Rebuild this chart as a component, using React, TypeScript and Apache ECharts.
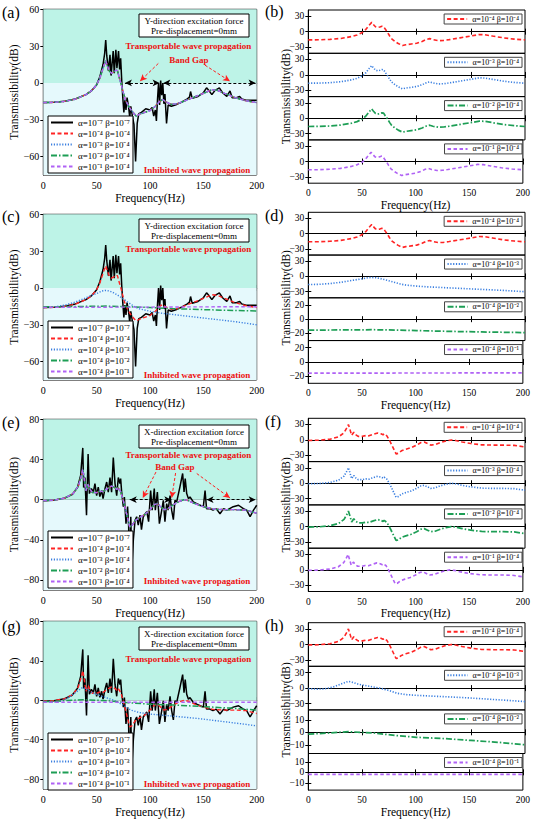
import React, { useEffect, useRef } from "react";
import * as echarts from "echarts";

type Pt = [number, number];

const FONT = "Liberation Serif, serif";
const W = 533;
const H = 819;

// ---------- tick labels ----------
const Y_TICKS_Y = [-60, -30, 0, 30, 60];
const Y_TICKS_X = [-80, -40, 0, 40, 80];
const SUB_TICKS_30 = [-30, 0, 30];
const SUB_TICKS_20 = [-20, 0, 20];
const SUB_TICKS_10 = [-10, 0, 10];

// ---------- legend names ----------
const NAMES_ALPHA = ["α=10⁻⁷ β=10⁻⁷", "α=10⁻⁴ β=10⁻⁴", "α=10⁻³ β=10⁻⁴", "α=10⁻² β=10⁻⁴", "α=10⁻¹ β=10⁻⁴"];
const NAMES_BETA = ["α=10⁻⁷ β=10⁻⁷", "α=10⁻⁴ β=10⁻⁴", "α=10⁻⁴ β=10⁻³", "α=10⁻⁴ β=10⁻²", "α=10⁻⁴ β=10⁻¹"];

// ---------- Y-direction excitation ----------
const yLight: Pt[] = [
  [0, -16], [10, -15.8], [20, -15], [30, -13], [40, -9.5], [45, -6.5], [50, -1.5], [53, 5], [56, 15], [57.5, 24],
  [58.5, 35], [59.5, 22], [61, 10], [62.5, 23], [63.5, 6], [65.5, 26], [66.5, 8], [68, 27], [69, 12], [70.5, 26],
  [71.5, 11], [72.5, 20], [73.5, 2], [74.5, -12], [75.5, -24], [76.5, -14], [77.5, -22], [78.5, -12], [80, -20],
  [81, -28], [82, -19], [83.5, -27], [85, -34], [86.5, -64], [88, -33], [89.5, -25], [92, -24], [96, -21], [100, -22],
  [102, -20], [103.5, -27], [105, -22], [106, -31], [107, -14], [108, 0], [109, -18], [110, 2], [111, -10], [112, 0],
  [113, -17], [114, -9], [115.5, -33], [117, -18], [120, -19], [125, -17.5], [130, -15.5], [135, -13], [137, -11.5],
  [138, -7], [139.5, -12.5], [145, -11], [150, -8], [153, -4], [155, -6], [158, -9.5], [161, -6], [165, -4], [168, -8],
  [172, -11], [175, -6.5], [177, -12], [181, -12], [184, -11], [186, -13], [190, -14], [195, -14], [200, -14],
];
const yBase: Pt[] = [
  [0, -16], [10, -15.8], [20, -15], [30, -13.2], [40, -9.5], [45, -6.5], [50, -1.5], [53, 4], [56, 12], [58.5, 18],
  [60, 14], [62, 9.5], [64, 8], [66, 9], [68, 10.5], [69.5, 10], [71, 5], [73, -1], [75, -8], [77, -14], [80, -19],
  [83, -23], [87, -27], [90, -25.5], [95, -24], [100, -22.5], [105, -19], [109, -15], [112, -13.5], [115, -15.5],
  [120, -17.5], [125, -17], [130, -15.5], [140, -12], [150, -8.5], [158, -5.5], [163, -6], [170, -8.5], [180, -12],
  [190, -14.5], [200, -16],
];
const yBeta3: Pt[] = [
  [0, -16], [10, -15.5], [20, -14], [30, -11.5], [40, -8], [50, -4.5], [55, -2.5], [58, -2], [62, -2.5], [66, -4],
  [70, -6], [75, -9], [80, -12], [85, -15], [90, -17], [100, -19], [110, -20.5], [120, -21.5], [135, -23], [150, -24.5],
  [165, -26], [180, -27.5], [200, -30],
];
const yBeta2: Pt[] = [
  [0, -15.5], [20, -15.2], [40, -15], [60, -14.8], [80, -15.3], [100, -16], [120, -16.8], [140, -17.4], [160, -17.9],
  [180, -18.4], [200, -18.8],
];
const yBeta1: Pt[] = [[0, -15.8], [50, -15.7], [100, -15.6], [150, -15.4], [200, -15.3]];

// ---------- X-direction excitation ----------
const xLight: Pt[] = [
  [0, -1], [10, -0.5], [20, 1.5], [27, 5], [32, 12], [35, 24], [37, 51.5], [37.8, 12], [39, 22], [40.5, -15.5],
  [42, 45.5], [43.2, 6], [45, 11], [47, 8], [48.4, 16], [50, 4], [51.5, 12.5], [53, 3], [54.7, 9], [56, 1], [57.8, 11],
  [59.4, 17.5], [60.9, 7.5], [62.5, 22], [64, 7.5], [65.6, 42], [67.2, 16], [68.8, 4], [70.3, 22], [71.8, 16],
  [72.5, 21], [73.4, 8], [75, -7], [76, 2.6], [77.5, -24], [79, -7], [80, -27], [80.6, -81.5], [82, -17], [83, -67],
  [84.4, -40], [86, -20.5], [87.5, -17], [89, -25.4], [90.6, -15.5], [92, -30], [93.7, -17], [97, -12], [98.7, -22],
  [100.6, 9], [102, -10.5], [104, 11], [105, -10.5], [106.9, 7.6], [108.8, -24], [111, -10.5], [112.5, -0.7],
  [114, -22], [115.6, -4], [117, -10.5], [118.8, 4], [120.3, -10.5], [121.9, -20], [123.4, -0.7], [125, -2.3],
  [128, 12.5], [130.6, 26], [131.9, 7.6], [133, 21], [134.4, 6], [136, 1], [137.5, 2.6], [140.6, -2.3], [143.8, -4],
  [147, -5.6], [150, -7], [151.6, 9], [153, -9], [156, -9], [159, -10.5], [162, -9], [165.6, -14], [169, -9],
  [172, -10.5], [178, -7], [183, -5.6], [187.5, -9], [190.6, -10.5], [193.8, -17], [195.3, -14], [197, -10.5],
  [200, -5.6],
];
const xBase: Pt[] = [
  [0, -1], [10, -0.5], [20, 1.5], [28, 6], [33, 14], [36, 25], [37, 30], [38.5, 20], [40, 9], [42, 15], [44, 10],
  [46, 7], [50, 7], [53, 8.5], [56, 8], [60, 11], [64, 13.5], [67, 12], [69, 10], [70, 12], [72.5, 8], [75, -1],
  [78, -14], [81, -27], [83, -26], [86, -21], [90, -18], [95, -15], [100, -10], [104, -5], [107, -4], [110, -7],
  [113, -10], [117, -9], [122, -5], [127, -2], [132, 0], [136, -1], [142, -4], [150, -7], [160, -9.5], [170, -10],
  [180, -10], [190, -10.5], [200, -13.5],
];
const xBeta3: Pt[] = [
  [0, -1], [8, -2], [15, -1.5], [22, 1.5], [28, 6], [33, 10], [37, 13], [41, 11], [47, 7], [55, 4], [66, 0], [75, -5],
  [82, -10], [90, -12.5], [100, -14], [115, -15.5], [130, -17], [145, -18.5], [160, -20.5], [175, -22.5],
  [190, -24.5], [200, -26],
];
const xBeta2: Pt[] = [
  [0, -1.5], [20, -0.5], [37, 0.5], [60, -0.5], [80, -2.5], [100, -4], [125, -5], [150, -6.5], [175, -8], [200, -10],
];
const xBeta1: Pt[] = [[0, -2], [100, -2], [200, -2]];

// ---------- styles ----------
const STYLES = [
  { color: "#000000", type: "solid" as any, width: 1.5 },
  { color: "#ff2424", type: [4, 2.5], width: 1.4 },
  { color: "#3a7fe0", type: [1.2, 1.6], width: 1.4 },
  { color: "#1d9e55", type: [6, 2, 1.5, 2], width: 1.5 },
  { color: "#b062f5", type: [3.5, 2.5], width: 1.4 },
];
const UPPER = "#bdf3e7";
const LOWER = "#e5f9fc";
const RED_TXT = "#ee1111";

function fmt(v: number) {
  return v < 0 ? "−" + Math.abs(v) : String(v);
}

function buildOption() {
  const grid: any[] = [];
  const xAxis: any[] = [];
  const yAxis: any[] = [];
  const series: any[] = [];
  const legend: any[] = [];
  const graphic: any[] = [];

  function addGrid(
    left: number, top: number, width: number, height: number,
    yMin: number, yMax: number, yTicks: number[],
    o: { xLabels: boolean; xName: boolean; yName: boolean; fs: number; xNameGap: number }
  ) {
    const gi = grid.length;
    grid.push({ left, top, width, height, show: true, borderColor: "#000", borderWidth: 1, backgroundColor: "transparent" });
    const xi = xAxis.length;
    xAxis.push({
      type: "value", gridIndex: gi, min: 0, max: 200, interval: 50, position: "bottom",
      axisLine: { show: true, lineStyle: { color: "#000", width: 1 } },
      axisTick: { show: true, inside: true, length: 3, lineStyle: { color: "#000" } },
      axisLabel: { show: o.xLabels, color: "#000", fontSize: o.fs, fontFamily: FONT, margin: 5 },
      splitLine: { show: false },
      name: o.xName ? "Frequency(Hz)" : "",
      nameLocation: "middle", nameGap: o.xNameGap,
      nameTextStyle: { fontSize: 11.5, fontFamily: FONT, color: "#000", fontWeight: "normal" },
    });
    xAxis.push({
      type: "value", gridIndex: gi, min: 0, max: 200, interval: 50, position: "top",
      axisLine: { show: false }, axisTick: { show: true, inside: true, length: 3, lineStyle: { color: "#000" } },
      axisLabel: { show: false }, splitLine: { show: false },
    });
    const yi = yAxis.length;
    yAxis.push({
      type: "value", gridIndex: gi, min: yMin, max: yMax, position: "left",
      axisLine: { show: true, lineStyle: { color: "#000", width: 1 } },
      axisTick: { show: true, inside: true, length: 3, customValues: yTicks, lineStyle: { color: "#000" } },
      axisLabel: { show: true, customValues: yTicks, formatter: fmt, color: "#000", fontSize: o.fs, fontFamily: FONT, margin: 4 },
      splitLine: { show: false },
      name: o.yName ? "Transmissibility(dB)" : "",
      nameLocation: "middle", nameGap: 15,
      nameTextStyle: { fontSize: 11.5, fontFamily: FONT, color: "#000", fontWeight: "normal" },
    });
    yAxis.push({
      type: "value", gridIndex: gi, min: yMin, max: yMax, position: "right",
      axisLine: { show: false },
      axisTick: { show: true, inside: true, length: 3, customValues: yTicks, lineStyle: { color: "#000" } },
      axisLabel: { show: false }, splitLine: { show: false },
    });
    return { xi, yi };
  }

  function line(name: string, data: Pt[], s: any, ax: { xi: number; yi: number }, wScale = 1) {
    series.push({
      type: "line", name, data, xAxisIndex: ax.xi, yAxisIndex: ax.yi,
      symbol: "none", showSymbol: false, silent: true, z: 3, color: s.color,
      lineStyle: { color: s.color, type: s.type, width: s.width * wScale },
    });
  }

  function text(x: number, y: number, t: string, size: number, fill = "#000", weight = "normal", extra: any = {}) {
    graphic.push({
      type: "text", x, y, z: 100, silent: true, ...extra,
      style: {
        text: t, fill, fontSize: size, fontFamily: FONT, fontWeight: weight,
        align: "center", verticalAlign: "middle", textAlign: "center", textVerticalAlign: "middle",
      },
    });
  }

  // ---------- left panels ----------
  const LEFT = [
    { label: "(a)", labelY: 12, top: 9.3, bottom: 175, yMin: -75, yMax: 60, ticks: Y_TICKS_Y, dir: "Y",
      sets: [yLight, yBase, yBase, yBase, yBase], names: NAMES_ALPHA,
      gaps: [[76.5, 109], [112.5, 199]], arrows: [[[107.8, 15.9], [90.6, 1.4]], [[151.5, 14.5], [175, 1.4]]],
      bandGap: [189, 60], trans: 46, inhib: 170, box: 14 },
    { label: "(c)", labelY: 216.5, top: 214.3, bottom: 380, yMin: -75, yMax: 60, ticks: Y_TICKS_Y, dir: "Y",
      sets: [yLight, yBase, yBeta3, yBeta2, yBeta1], names: NAMES_BETA,
      gaps: [], arrows: [], bandGap: null, trans: 249.3, inhib: 374.5, box: 219 },
    { label: "(e)", labelY: 422, top: 419.3, bottom: 590, yMin: -90, yMax: 80, ticks: Y_TICKS_X, dir: "X",
      sets: [xLight, xBase, xBase, xBase, xBase], names: NAMES_ALPHA,
      gaps: [[81, 120], [153, 199]],
      arrows: [[[105.6, 27.5], [93.2, 1.6]], [[124, 26.5], [120.3, 1.6]], [[143.8, 26], [175, 1.6]]],
      bandGap: [175, 466.7], trans: 455, inhib: 581, box: 425 },
    { label: "(g)", labelY: 626, top: 621.3, bottom: 792, yMin: -90, yMax: 80, ticks: Y_TICKS_X, dir: "X",
      sets: [xLight, xBase, xBeta3, xBeta2, xBeta1], names: NAMES_BETA,
      gaps: [], arrows: [], bandGap: null, trans: 658.7, inhib: 784, box: 627 },
  ];

  const legendCommon = {
    orient: "vertical", selectedMode: false, z: 50,
    itemStyle: { opacity: 0, borderWidth: 0 },
    textStyle: { fontFamily: FONT, color: "#000" },
  };

  LEFT.forEach((p: any) => {
    const ax = addGrid(43.3, p.top, 213.4, p.bottom - p.top, p.yMin, p.yMax, p.ticks,
      { xLabels: true, xName: true, yName: true, fs: 10, xNameGap: 17 });
    series.push({
      type: "line", name: "bg", data: [], xAxisIndex: ax.xi, yAxisIndex: ax.yi, z: 1, silent: true,
      markArea: {
        silent: true, label: { show: false },
        data: [
          [{ xAxis: 0, yAxis: 0, itemStyle: { color: UPPER } }, { xAxis: 200, yAxis: p.yMax }],
          [{ xAxis: 0, yAxis: p.yMin, itemStyle: { color: LOWER } }, { xAxis: 200, yAxis: 0 }],
        ],
      },
    });
    p.sets.forEach((d: Pt[], i: number) => line(p.names[i], d, STYLES[i], ax));
    if (p.gaps.length) {
      series.push({
        type: "line", name: "gap", data: [], xAxisIndex: ax.xi, yAxisIndex: ax.yi, z: 6, silent: true,
        markLine: {
          silent: true, symbol: ["arrow", "arrow"], symbolSize: [5, 7], label: { show: false },
          lineStyle: { color: "#000", type: [3, 2], width: 1 },
          data: p.gaps.map((g: number[]) => [{ coord: [g[0], 0] }, { coord: [g[1], 0] }]),
        },
      });
      series.push({
        type: "line", name: "ptr", data: [], xAxisIndex: ax.xi, yAxisIndex: ax.yi, z: 6, silent: true,
        markLine: {
          silent: true, symbol: ["none", "arrow"], symbolSize: [5, 7], label: { show: false },
          lineStyle: { color: "#ff2020", type: [3, 2], width: 1 },
          data: p.arrows.map((a: number[][]) => [{ coord: a[0] }, { coord: a[1] }]),
        },
      });
    }
    legend.push({
      ...legendCommon,
      data: p.names, left: 48, bottom: H - p.bottom + 2,
      backgroundColor: "#fff", borderColor: "#000", borderWidth: 1, padding: [2, 3, 2, 2],
      itemGap: 2, itemWidth: 22, itemHeight: 10,
      textStyle: { ...legendCommon.textStyle, fontSize: 9 },
    });
    graphic.push({
      type: "rect", z: 90, silent: true, shape: { x: 139, y: p.box, width: 110, height: 23 },
      style: { fill: "#fff", stroke: "#000", lineWidth: 1 },
    });
    text(194, p.box + 6.5, `${p.dir}-direction excitation force`, 9);
    text(194, p.box + 17, "Pre-displacement=0mm", 9);
    text(188.3, p.trans, "Transportable wave propagation", 9, RED_TXT, "bold");
    text(197, p.inhib, "Inhibited wave propagation", 9, RED_TXT, "bold");
    if (p.bandGap) text(p.bandGap[0], p.bandGap[1], "Band Gap", 9, RED_TXT, "bold");
    graphic.push({
      type: "text", x: 2, y: p.labelY, z: 100, silent: true,
      style: { text: p.label, fontSize: 16, fontFamily: FONT, fill: "#000", verticalAlign: "middle", textVerticalAlign: "middle" },
    });
  });

  // ---------- right panels ----------
  const RIGHT = [
    { label: "(b)", labelY: 11.5, top: 10, h: 43.3, sets: [yBase, yBase, yBase, yBase], names: NAMES_ALPHA,
      ranges: [[-42, 42], [-42, 42], [-42, 42], [-42, 42]], ticks: [SUB_TICKS_30, SUB_TICKS_30, SUB_TICKS_30, SUB_TICKS_30] },
    { label: "(d)", labelY: 215, top: 212.3, h: 42.75, sets: [yBase, yBeta3, yBeta2, yBeta1], names: NAMES_BETA,
      ranges: [[-42, 42], [-42, 42], [-30, 30], [-30, 30]], ticks: [SUB_TICKS_30, SUB_TICKS_30, SUB_TICKS_20, SUB_TICKS_20] },
    { label: "(f)", labelY: 421, top: 418.3, h: 43.3, sets: [xBase, xBase, xBase, xBase], names: NAMES_ALPHA,
      ranges: [[-42, 42], [-42, 42], [-42, 42], [-42, 42]], ticks: [SUB_TICKS_30, SUB_TICKS_30, SUB_TICKS_30, SUB_TICKS_30] },
    { label: "(h)", labelY: 625, top: 622.7, h: 43.6, sets: [xBase, xBeta3, xBeta2, xBeta1], names: NAMES_BETA,
      ranges: [[-42, 42], [-42, 42], [-17, 18], [-17, 18]], ticks: [SUB_TICKS_30, SUB_TICKS_30, SUB_TICKS_10, SUB_TICKS_10] },
  ];

  RIGHT.forEach((p: any) => {
    for (let k = 0; k < 4; k++) {
      const top = p.top + k * p.h;
      const last = k === 3;
      const ax = addGrid(308.3, top, 216.7, p.h, p.ranges[k][0], p.ranges[k][1], p.ticks[k],
        { xLabels: last, xName: last, yName: false, fs: 9.5, xNameGap: 13 });
      line(p.names[k + 1], p.sets[k], STYLES[k + 1], ax, 1.15);
      legend.push({
        ...legendCommon,
        orient: "horizontal",
        data: [p.names[k + 1]], right: W - 522, top: top + 4,
        backgroundColor: "#fff", borderColor: "#444", borderWidth: 1, padding: [1, 3, 1, 2],
        itemGap: 0, itemWidth: 20, itemHeight: 8,
        textStyle: { ...legendCommon.textStyle, fontSize: 8 },
      });
    }
    text(285.5, p.top + 2 * p.h, "Transmissibility(dB)", 11.5, "#000", "normal", { rotation: Math.PI / 2 });
    graphic.push({
      type: "text", x: 265, y: p.labelY, z: 100, silent: true,
      style: { text: p.label, fontSize: 16, fontFamily: FONT, fill: "#000", verticalAlign: "middle", textVerticalAlign: "middle" },
    });
  });

  return {
    animation: false,
    backgroundColor: "#fff",
    textStyle: { fontFamily: FONT },
    grid, xAxis, yAxis, series, legend, graphic,
  };
}

export default function App() {
  const ref = useRef<HTMLDivElement>(null);
  useEffect(() => {
    document.body.style.margin = "0";
    const chart = echarts.init(ref.current!, null, { renderer: "svg", width: W, height: H });
    chart.setOption(buildOption() as any);
    return () => chart.dispose();
  }, []);
  return <div ref={ref} style={{ width: W, height: H, position: "absolute", left: 0, top: 0, background: "#fff" }} />;
}
